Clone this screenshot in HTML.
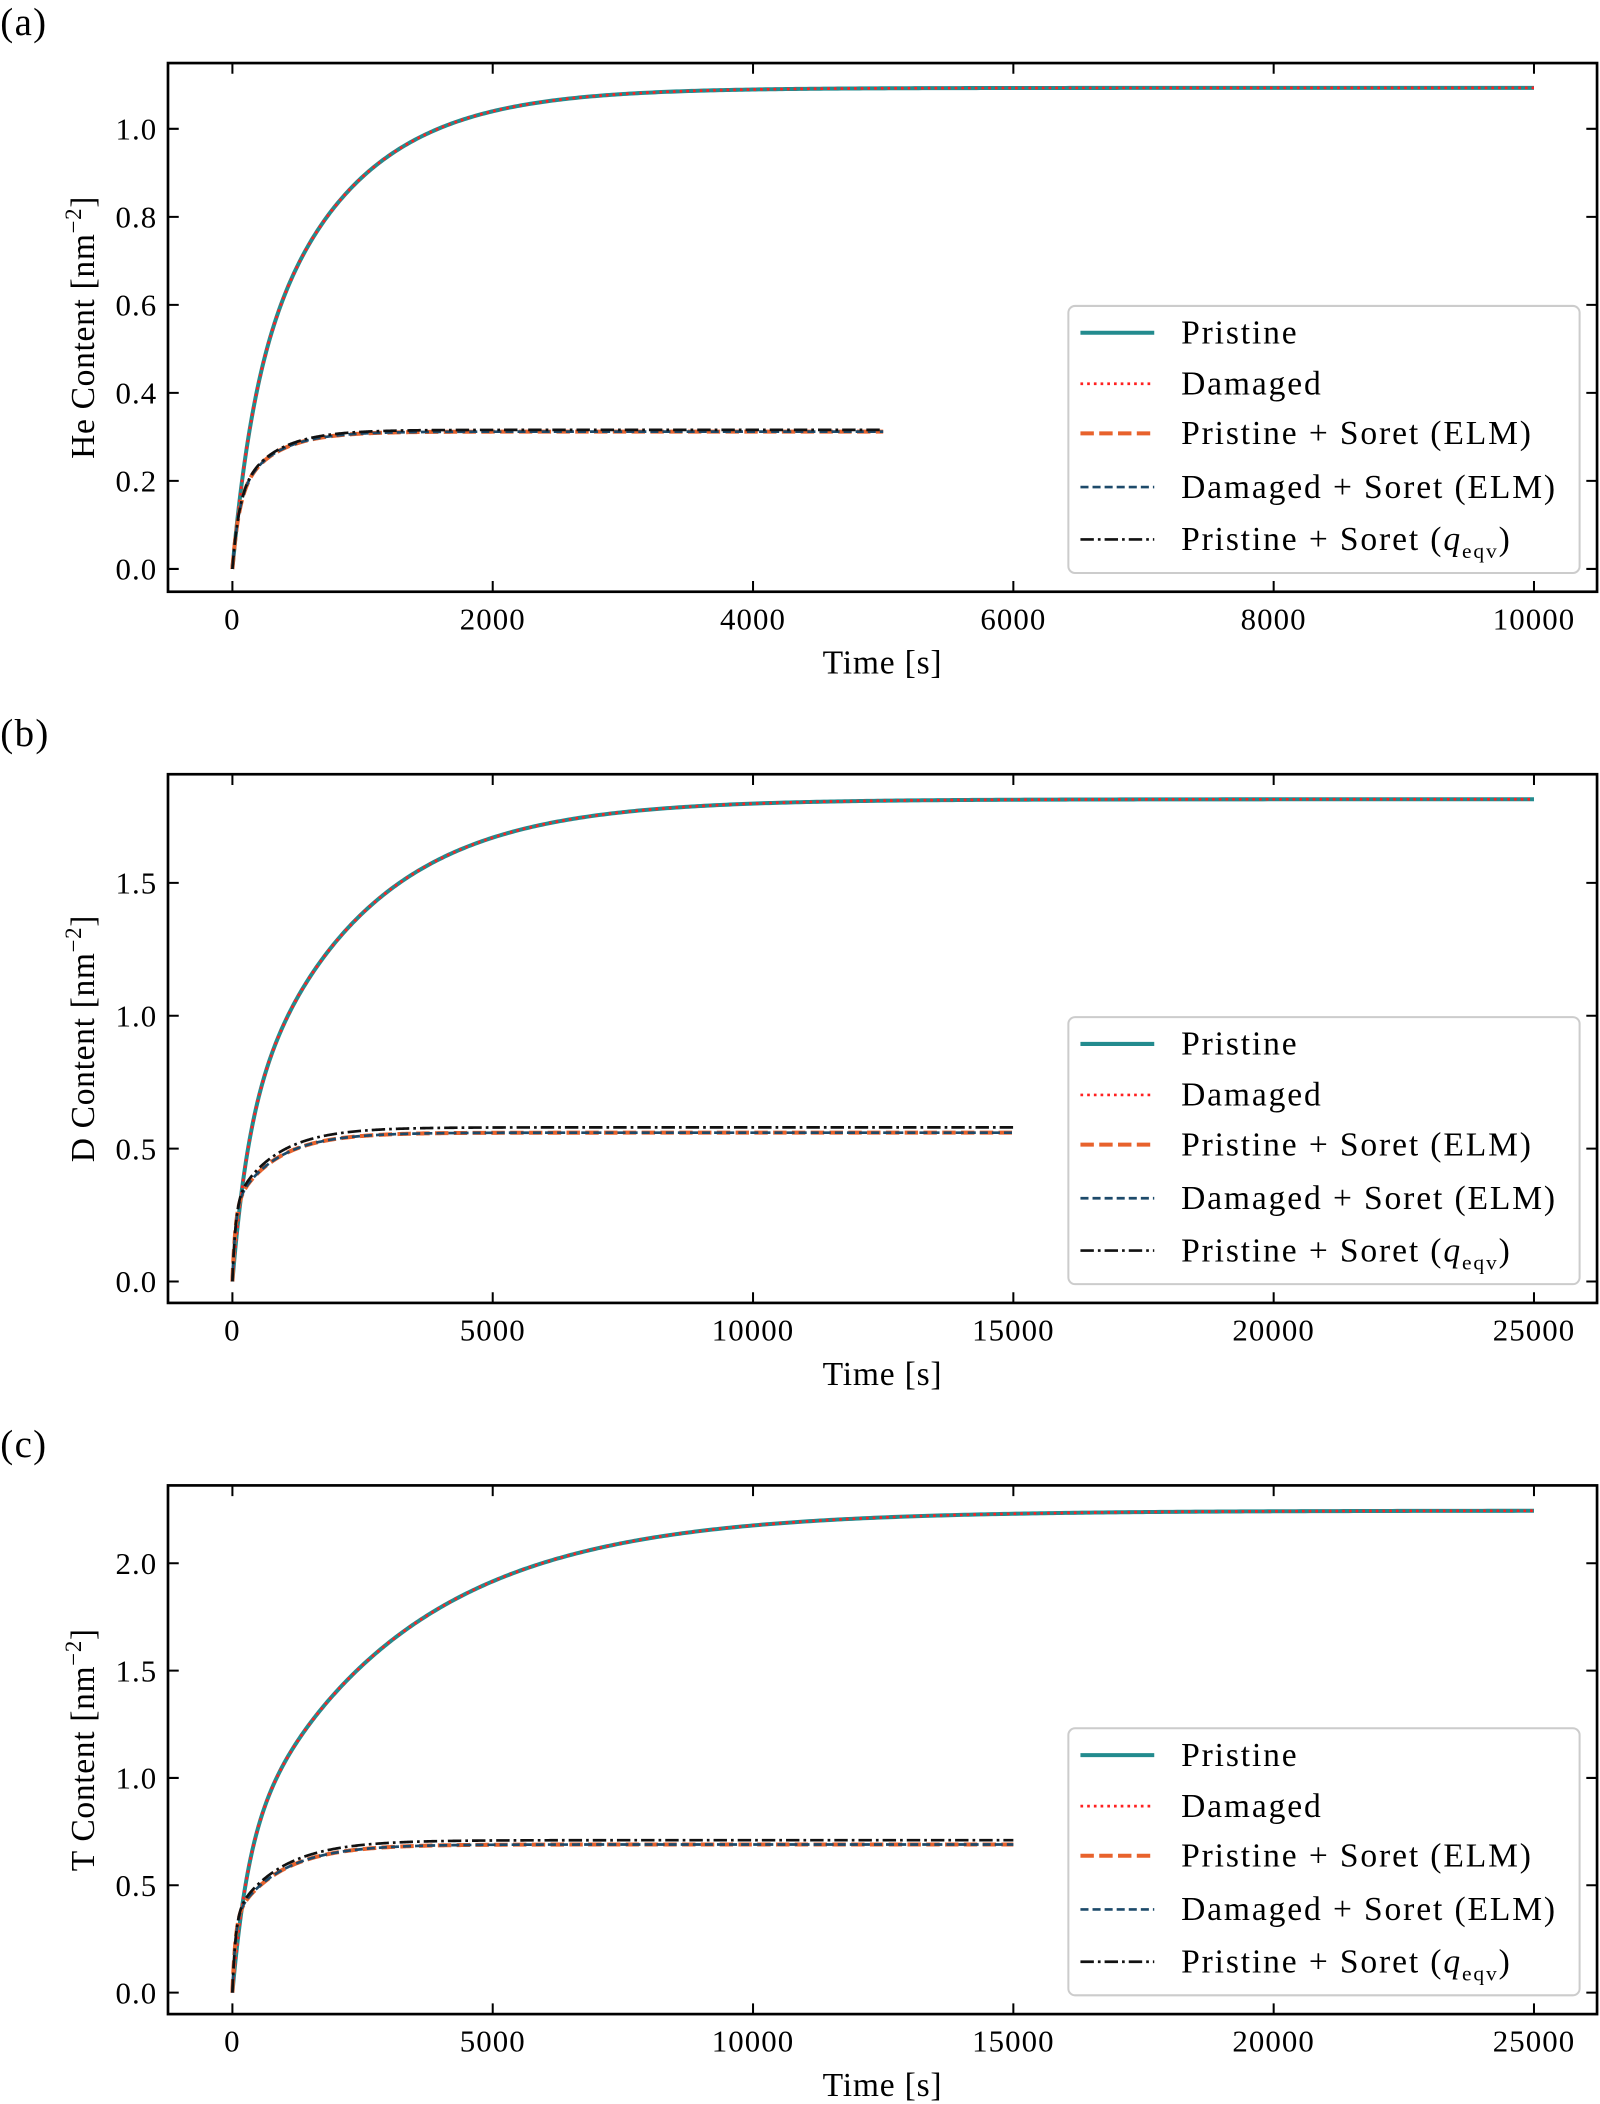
<!DOCTYPE html>
<html><head><meta charset="utf-8">
<style>
html,body{margin:0;padding:0;background:#fff;}
svg{display:block;}
text{font-family:"Liberation Serif","DejaVu Serif",serif;fill:#000;}
</style></head>
<body>
<svg id="s" width="1600" height="2104" viewBox="0 0 1192 1568" xmlns="http://www.w3.org/2000/svg"></svg>
<script>
const S=document.getElementById('s');
let out='';
function curve(f,t1,xs,x0,y0,ys){let p='';const N=500;for(let i=0;i<=N;i++){const t=t1*Math.pow(i/N,2);const x=x0+t*xs,y=y0-f(t)*ys;p+=(i?'L':'M')+x.toFixed(2)+' '+y.toFixed(2);}return p;}
function panel(o){
 const L=125,R=1190,T=o.top,B=o.top+394;
 const xs=970/o.xmax, x0=173;
 let g='';
 g+=`<text x="0" y="${T-21}" font-size="29" letter-spacing="1">${o.lab}</text>`;
 const top=t=>o.A*(1-(o.w*Math.exp(-t/o.t1)+(1-o.w)*Math.exp(-t/o.t2)));
 const low=(a)=>t=>a*(1-(0.5*Math.exp(-t/o.l1)+0.5*Math.exp(-t/o.l2)));
 const pt=curve(top,o.xmax,xs,x0,o.y0,o.ys);
 g+=`<path d="${pt}" fill="none" stroke="#238b8e" stroke-width="3"/>`;
 g+=`<path d="${pt}" fill="none" stroke="#ff2020" stroke-width="2" stroke-dasharray="2,3"/>`;
 const pl=curve(low(o.a),o.lend,xs,x0,o.y0,o.ys);
 g+=`<path d="${pl}" fill="none" stroke="#e8622c" stroke-width="3" stroke-dasharray="10,4"/>`;
 g+=`<path d="${pl}" fill="none" stroke="#1d4a6a" stroke-width="2" stroke-dasharray="6,3"/>`;
 const pq=curve(low(o.aq),o.lend,xs,x0,o.y0,o.ys);
 g+=`<path d="${pq}" fill="none" stroke="#111" stroke-width="2" stroke-dasharray="10,3,2,3"/>`;
 g+=`<rect x="${L}" y="${T}" width="${R-L}" height="${B-T}" fill="none" stroke="#000" stroke-width="2"/>`;
 for(let i=0;i<=5;i++){const v=o.xmax/5*i,x=x0+v*xs;
  g+=`<path d="M${x} ${B}V${B-8}M${x} ${T}V${T+8}" stroke="#000" stroke-width="1.5"/>`;
  g+=`<text x="${x}" y="${B+28}" font-size="23" letter-spacing="0.8" text-anchor="middle">${v}</text>`;}
 g+=`<text x="${(L+R)/2}" y="${B+61}" font-size="25" letter-spacing="0.6" text-anchor="middle">Time [s]</text>`;
 for(const v of o.yt){const y=o.y0-v*o.ys;
  g+=`<path d="M${L} ${y}H${L+8}M${R} ${y}H${R-8}" stroke="#000" stroke-width="1.5"/>`;
  g+=`<text x="${L-8}" y="${y+8}" font-size="23" letter-spacing="0.8" text-anchor="end">${v.toFixed(1)}</text>`;}
 const cy=(T+B)/2;
 g+=`<text transform="translate(70,${cy}) rotate(-90)" font-size="25" letter-spacing="0.5" text-anchor="middle">${o.yl} Content [nm<tspan dy="-10" font-size="17">−2</tspan><tspan dy="10">]</tspan></text>`;
 const ly=T+181;
 g+=`<rect x="796" y="${ly}" width="381" height="199" rx="5" fill="#fff" fill-opacity="0.85" stroke="#ccc" stroke-width="1.5"/>`;
 const items=[['#238b8e',3,'','Pristine'],['#ff2020',2,'2,3','Damaged'],['#e8622c',3,'10,4','Pristine + Soret (ELM)'],['#1d4a6a',2,'6,3','Damaged + Soret (ELM)'],['#111',2,'10,3,2,3','Pristine + Soret (<tspan font-style="italic">q</tspan><tspan font-size="16" dy="6">eqv</tspan><tspan dy="-6">)</tspan>']];
 const dy=[20,58,95,135,174];
 items.forEach((it,i)=>{const y=ly+dy[i];
  g+=`<path d="M805 ${y}H860" stroke="${it[0]}" stroke-width="${it[1]}" ${it[2]?`stroke-dasharray="${it[2]}"`:''}/>`;
  g+=`<text x="880" y="${y+8}" font-size="25" letter-spacing="1.4">${it[3]}</text>`;});
 return g;
}
out+=panel({lab:'(a)',top:47,xmax:10000,y0:424,ys:328,A:1.093,w:0.3,t1:150,t2:750,a:0.312,aq:0.316,l1:50,l2:280,lend:5000,yt:[0,0.2,0.4,0.6,0.8,1.0],yl:'He'});
out+=panel({lab:'(b)',top:577,xmax:25000,y0:955,ys:198,A:1.815,w:0.3,t1:300,t2:2300,a:0.56,aq:0.58,l1:60,l2:800,lend:15000,yt:[0,0.5,1.0,1.5],yl:'D'});
out+=panel({lab:'(c)',top:1107,xmax:25000,y0:1485,ys:160,A:2.245,w:0.3,t1:300,t2:3200,a:0.69,aq:0.71,l1:60,l2:900,lend:15000,yt:[0,0.5,1.0,1.5,2.0],yl:'T'});
S.innerHTML=out;
</script>
</body></html>
